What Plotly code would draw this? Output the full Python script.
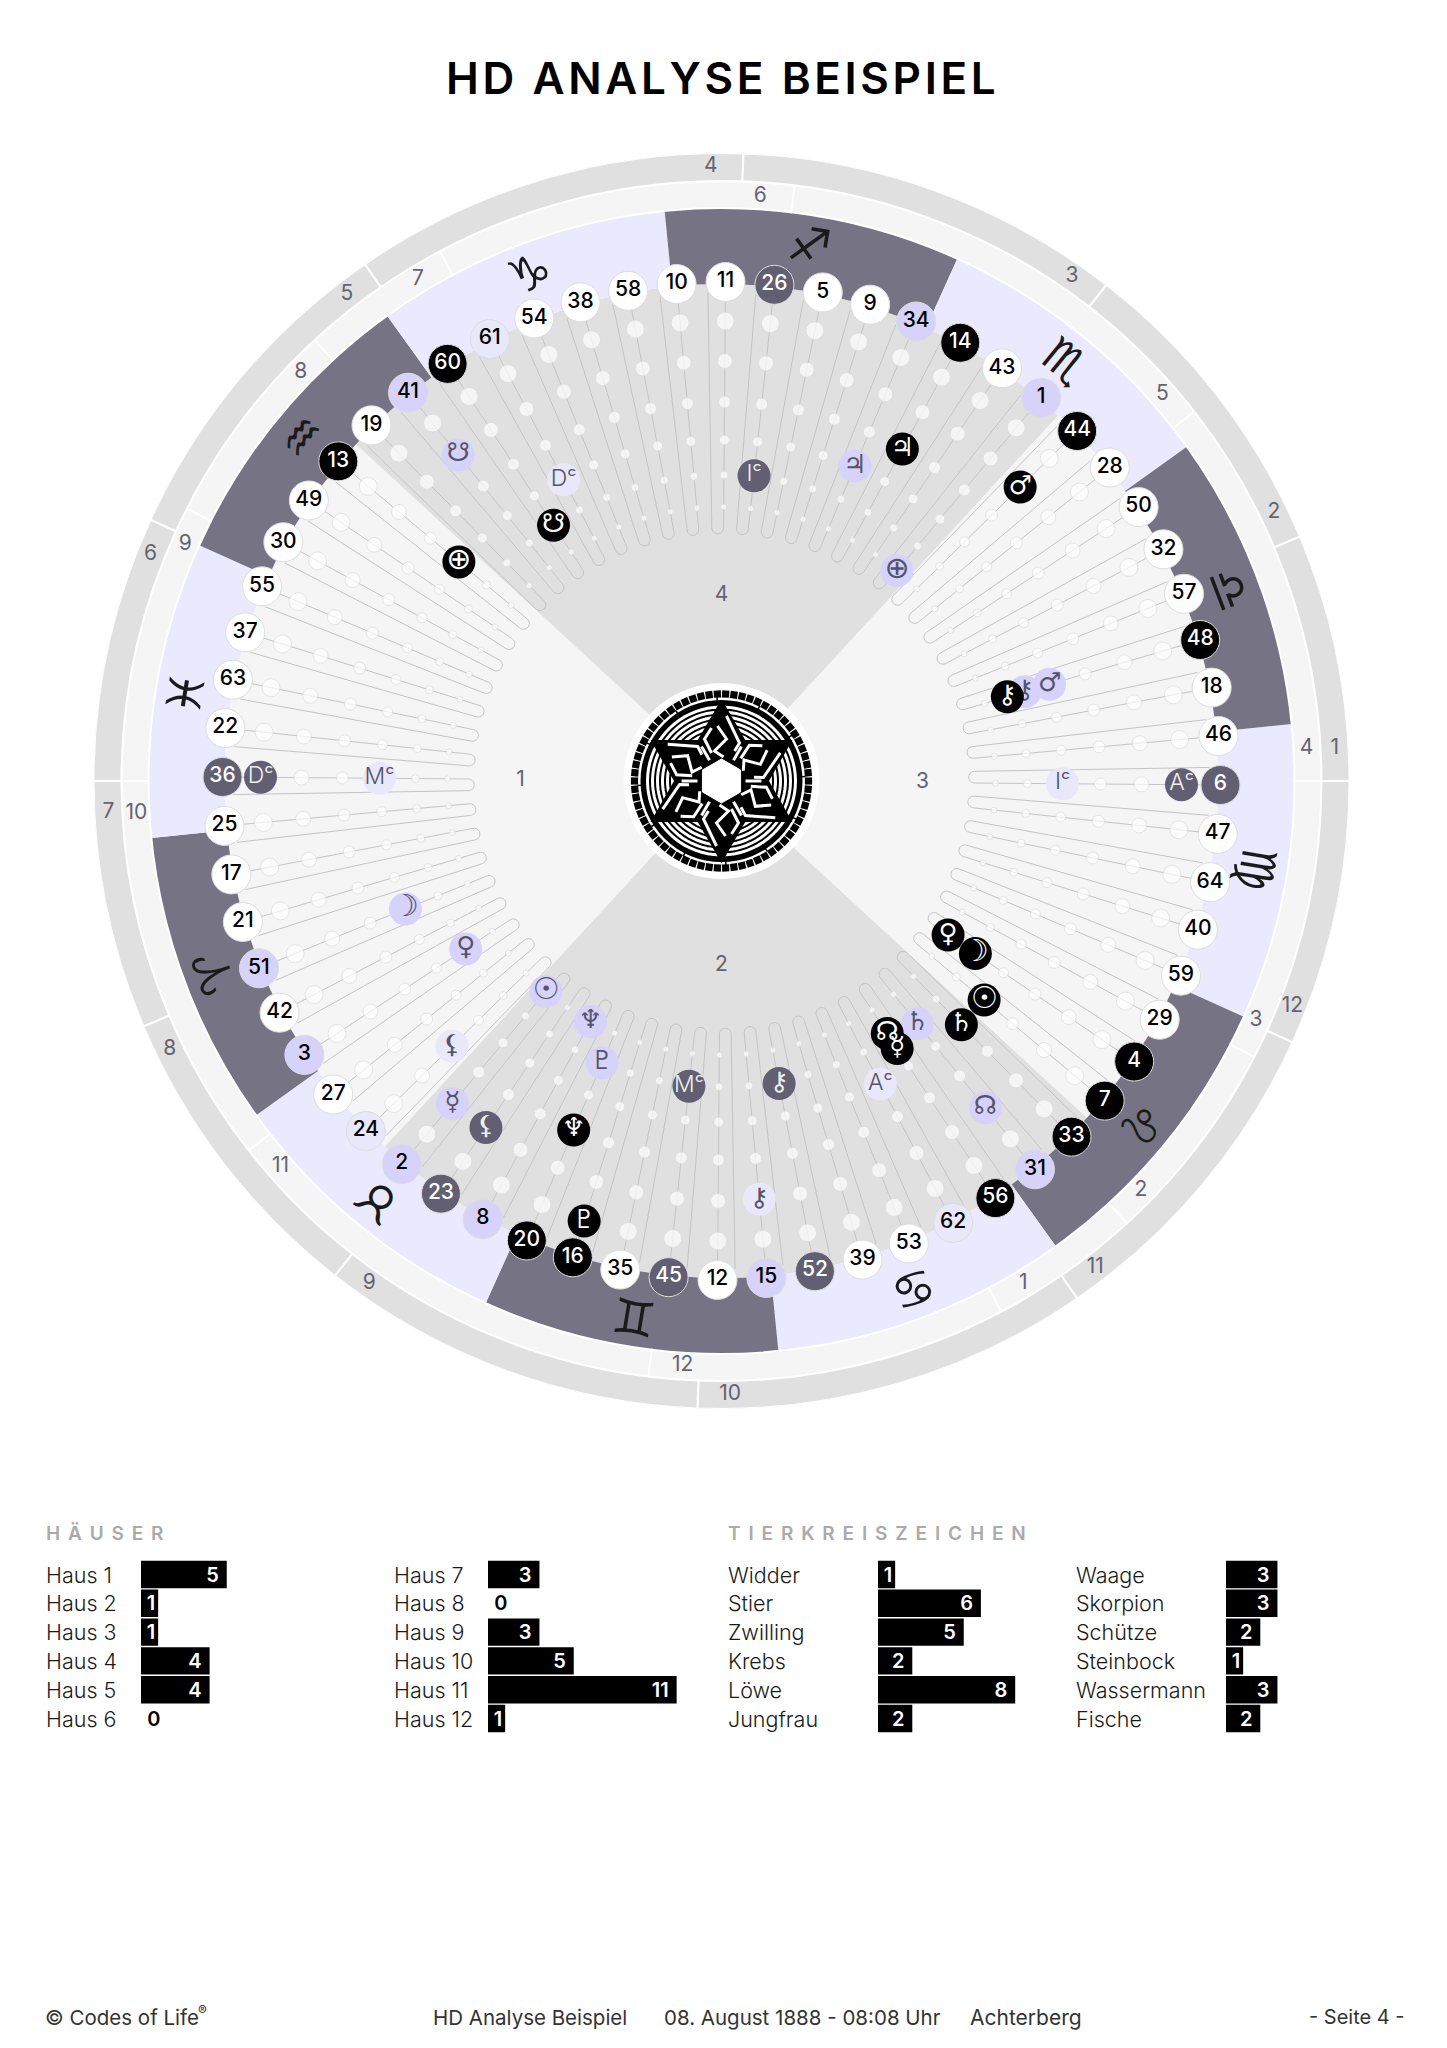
import math
import plotly.graph_objects as go

W, H = 1447, 2048
# the page body keeps its 8px margin, so the figure is 16px smaller and every position shifts by 8
PAD = 8
FW, FH = W - 2 * PAD, H - 2 * PAD
CX, CY, R_OUT = 721.5, 781, 628
FONT = "Inter"

# gates, clockwise from east
GATES = [6, 47, 64, 40, 59, 29, 4, 7, 33, 31, 56, 62, 53, 39, 52, 15,
         12, 45, 35, 16, 20, 8, 23, 2, 24, 27, 3, 42, 51, 21, 17, 25,
         36, 22, 63, 37, 55, 30, 49, 13, 19, 41, 60, 61, 54, 38, 58, 10,
         11, 26, 5, 9, 34, 14, 43, 1, 44, 28, 50, 32, 57, 48, 18, 46]
GATE_START = 0.46
GATE_STEP = 5.625
GATES_BLACK = [14, 44, 60, 13, 48, 4, 7, 33, 56, 20, 16]
GATES_DARK = [26, 36, 6, 23, 45, 52]
GATES_LAV = [34, 1, 41, 3, 51, 2, 8, 31, 15]
GATES_PALE = [61, 24, 62]

LINE_R = [274, 306, 341, 379, 420, 460]
DOT_SIZE = [6, 8, 10, 12, 15, 18]

# house cusps on the two outer rings (angle clockwise from east, label before it)
OUTER_CUSPS = [0, 24.6, 55.5, 92.2, 128, 157, 180, 204.6, 235.4, 272, 307.8, 337.1]
OUTER_LABELS = ["1", "12", "11", "10", "9", "8", "7", "6", "5", "4", "3", "2"]
INNER_CUSPS = [0, 27.4, 47.5, 62.2, 97, 142, 180, 207, 227.3, 242, 277, 322]
INNER_LABELS = ["4", "3", "2", "1", "12", "11", "10", "9", "8", "7", "6", "5"]

SIGN_START = 354.3
SIGN_GLYPHS = ["♍", "♌", "♋", "♊", "♉", "♈", "♓", "♒", "♑", "♐", "♏", "♎"]

PLANET_DARK = [("Iᶜ", 26, 307), ("Aᶜ", 6, 460), ("Dᶜ", 36, 461),
               ("Mᶜ", 45, 307), ("⚸", 23, 419), ("⚷", 52, 308)]
PLANET_PALE = [("Iᶜ", 6, 341), ("Mᶜ", 36, 342), ("Dᶜ", 61, 340),
               ("⚸", 24, 378), ("⚷", 15, 420), ("Aᶜ", 62, 342)]
PLANET_LAV = [("♃", 34, 342), ("⊕", 1, 274), ("♂", 48, 342), ("⚷", 48, 316), ("☋", 41, 419),
              ("☽", 51, 341), ("♀", 3, 306), ("☉", 2, 274), ("♆", 8, 274), ("♇", 20, 306),
              ("☿", 2, 420), ("♄", 31, 312), ("☊", 31, 420)]
PLANET_BLACK = [("♃", 14, 378), ("♂", 44, 419), ("⚷", 48, 298), ("⊕", 13, 342), ("☋", 60, 306),
                ("♆", 20, 379), ("♇", 16, 461), ("☉", 7, 342), ("☽", 4, 307), ("♀", 4, 274),
                ("♄", 33, 342), ("☿", 56, 320), ("☊", 56, 302)]
ANGLE_NAMES = ["Iᶜ", "Aᶜ", "Dᶜ", "Mᶜ"]

HOUSES_A = ["Haus 1", "Haus 2", "Haus 3", "Haus 4", "Haus 5", "Haus 6"]
HOUSES_A_VAL = [5, 1, 1, 4, 4, 0]
HOUSES_B = ["Haus 7", "Haus 8", "Haus 9", "Haus 10", "Haus 11", "Haus 12"]
HOUSES_B_VAL = [3, 0, 3, 5, 11, 1]
SIGNS_A = ["Widder", "Stier", "Zwilling", "Krebs", "Löwe", "Jungfrau"]
SIGNS_A_VAL = [1, 6, 5, 2, 8, 2]
SIGNS_B = ["Waage", "Skorpion", "Schütze", "Steinbock", "Wassermann", "Fische"]
SIGNS_B_VAL = [3, 3, 2, 1, 3, 2]


def gate_angle(i):
    return GATE_START + i * GATE_STEP


def local_to_polar(theta, pts):
    rs, ts = [], []
    for u, v in pts:
        rs.append(math.hypot(u, v))
        ts.append(theta - math.degrees(math.atan2(v, u)))
    return rs, ts


def px(x):
    return (x - PAD) / FW


def py(y):
    return 1 - (y - PAD) / FH


fig = go.Figure()


def ring_bars(base, top, cusps, color, line_w):
    thetas, widths = [], []
    for k, c in enumerate(cusps):
        nxt = cusps[(k + 1) % len(cusps)]
        span = (nxt - c) % 360
        thetas.append(c + span / 2)
        widths.append(span)
    fig.add_trace(go.Barpolar(theta=thetas, width=widths, r=[top - base] * len(cusps), base=[base] * len(cusps),
                              marker=dict(color=color, line=dict(color="white", width=line_w)),
                              hoverinfo="skip", showlegend=False))


# quadrants
q_edges = [gate_angle(i - 0.5) for i in (8, 24, 40, 56)]
fig.add_trace(go.Barpolar(
    theta=[e + 45 for e in q_edges], width=[90] * 4, r=[497] * 4, base=[0] * 4,
    marker=dict(color=["#e0e0e0", "#f5f5f5", "#e0e0e0", "#f5f5f5"], line=dict(width=0)),
    hoverinfo="skip", showlegend=False))

# zodiac band
sign_theta = [(SIGN_START + 15 + 30 * k) % 360 for k in range(12)]
fig.add_trace(go.Barpolar(
    theta=sign_theta, width=[30] * 12, r=[76] * 12, base=[497] * 12,
    marker=dict(color=["#ebe9fd", "#767385"] * 6, line=dict(width=0)),
    hoverinfo="skip", showlegend=False))

ring_bars(573, 600, INNER_CUSPS, "#f5f5f5", 2)
ring_bars(600, 628, OUTER_CUSPS, "#e0e0e0", 2)

# logo discs
fig.add_trace(go.Barpolar(theta=[0, 0], width=[360, 360], r=[98, 81], base=[0, 0],
                          marker=dict(color=["white", "black"], line=dict(width=0)),
                          hoverinfo="skip", showlegend=False))

# logo: arcs between the star tips, each stopping where it meets the star edge
STAR_TIP, STAR_NOTCH = 76, 44
tip_x = STAR_TIP * math.cos(math.radians(30))
tip_y = STAR_TIP * math.sin(math.radians(30))
arc_r, arc_t = [], []
for k in range(6):
    mid = 60 * k
    for rad in (49, 54, 59, 64, 69, 74):
        half = 2
        for s in range(101):
            x = STAR_NOTCH + (tip_x - STAR_NOTCH) * s / 100
            y = tip_y * s / 100
            if math.hypot(x, y) <= rad:
                half = math.degrees(math.atan2(y, x))
        for s in range(13):
            arc_r.append(rad)
            arc_t.append(mid - half + 2 * half * s / 12)
        arc_r.append(None)
        arc_t.append(None)
fig.add_trace(go.Scatterpolar(r=arc_r, theta=arc_t, mode="lines", line=dict(color="white", width=3),
                              hoverinfo="skip", showlegend=False))

# logo: hexagram outline
star_r = [STAR_TIP if k % 2 == 0 else STAR_NOTCH for k in range(13)]
star_t = [270 + 30 * k for k in range(13)]
fig.add_trace(go.Scatterpolar(r=star_r, theta=star_t, mode="lines", fill="toself", fillcolor="black",
                              line=dict(color="black", width=6), hoverinfo="skip", showlegend=False))

# logo: meander in each star arm
maze_r, maze_t = [], []
MAZE = [[(65, -5), (38, -18), (30, -13)],
        [(55, 4), (42, -5), (30, 7), (24, -2)],
        [(53, 10), (42, 17), (28, 10)],
        [(20.8, 12), (34.6, 20)]]
for k in range(6):
    tip = 270 + 60 * k
    for path in MAZE:
        rs, ts = local_to_polar(tip, path)
        maze_r += rs + [None]
        maze_t += ts + [None]
fig.add_trace(go.Scatterpolar(r=maze_r, theta=maze_t, mode="lines", line=dict(color="white", width=3),
                              hoverinfo="skip", showlegend=False))
hex_t = [270 + 60 * k for k in range(7)]
fig.add_trace(go.Scatterpolar(r=[22] * 7, theta=hex_t, mode="lines", fill="toself", fillcolor="white",
                              line=dict(color="white", width=1), hoverinfo="skip", showlegend=False))
sq_t = [360 * k / 66 for k in range(66)]
fig.add_trace(go.Scatterpolar(r=[87] * 66, theta=sq_t, mode="markers",
                              marker=dict(symbol="square", size=7.2, color="black", angle=sq_t, line=dict(width=0)),
                              hoverinfo="skip", showlegend=False))
tick_r, tick_t = [], []
for k in range(12):
    tick_r += [80, 84, None]
    tick_t += [30 * k - 3, 30 * k - 3, None]
fig.add_trace(go.Scatterpolar(r=tick_r, theta=tick_t, mode="lines", line=dict(color="black", width=1.5),
                              hoverinfo="skip", showlegend=False))

# lanes: line from the gate inward, u-turn, back out beside it
lane_r, lane_t = [], []
for i in range(len(GATES)):
    th = gate_angle(i)
    pts = [(499, 0), (253, 0)]
    for s in range(1, 10):
        a = math.pi * s / 10
        pts.append((253 - 5.85 * math.sin(a), 5.85 - 5.85 * math.cos(a)))
    pts += [(253, 11.7), (488, 17.5)]
    rs, ts = local_to_polar(th, pts)
    lane_r += rs + [None]
    lane_t += ts + [None]
fig.add_trace(go.Scatterpolar(r=lane_r, theta=lane_t, mode="lines", line=dict(color="#c4c4c4", width=1),
                              hoverinfo="skip", showlegend=False))

# line dots
dot_r, dot_t, dot_s = [], [], []
for i in range(len(GATES)):
    for j in range(6):
        dot_r.append(LINE_R[j])
        dot_t.append(gate_angle(i))
        dot_s.append(DOT_SIZE[j])
fig.add_trace(go.Scatterpolar(r=dot_r, theta=dot_t, mode="markers",
                              marker=dict(color="white", size=dot_s, line=dict(color="#dedede", width=1)),
                              hoverinfo="skip", showlegend=False))


def glyph_size(t):
    if t in ANGLE_NAMES:
        return 23
    if t in ("☉", "⊕", "☽"):
        return 30
    return 26


# planets
for plist, fill, txt in [(PLANET_PALE, "#e9e7fa", "#55536a"), (PLANET_LAV, "#d6d2fa", "#55536a"),
                         (PLANET_DARK, "#625f72", "#eeeeee"), (PLANET_BLACK, "black", "white")]:
    labels = [p[0] for p in plist]
    fig.add_trace(go.Scatterpolar(
        r=[p[2] for p in plist],
        theta=[gate_angle(GATES.index(p[1])) for p in plist],
        text=labels,
        mode="markers+text",
        marker=dict(color=fill, size=33, line=dict(width=0)),
        textfont=dict(family=[FONT if t in ANGLE_NAMES else "DejaVu Sans" for t in labels],
                      size=[glyph_size(t) for t in labels],
                      weight=[300 if t in ANGLE_NAMES else 400 for t in labels],
                      color=txt),
        textposition="middle center",
        hoverinfo="skip", showlegend=False))

# gate circles
gate_fill, gate_txt = [], []
for g in GATES:
    if g in GATES_BLACK:
        gate_fill.append("black"); gate_txt.append("white")
    elif g in GATES_DARK:
        gate_fill.append("#625f72"); gate_txt.append("white")
    elif g in GATES_LAV:
        gate_fill.append("#d6d2fa"); gate_txt.append("black")
    elif g in GATES_PALE:
        gate_fill.append("#e9e7fa"); gate_txt.append("black")
    else:
        gate_fill.append("white"); gate_txt.append("black")
fig.add_trace(go.Scatterpolar(
    r=[499] * len(GATES), theta=[gate_angle(i) for i in range(len(GATES))],
    text=[str(g) for g in GATES], mode="markers+text",
    marker=dict(color=gate_fill, size=39, line=dict(color="#dddddd", width=1)),
    textfont=dict(family=FONT, size=21, color=gate_txt, weight=500),
    textposition="middle center", hoverinfo="skip", showlegend=False))

# ring and quadrant numbers
ring_r = [614] * 12 + [586] * 12 + [201, 185, 201, 185]
ring_t = [(c - 3) % 360 for c in OUTER_CUSPS] + [(c - 3.2) % 360 for c in INNER_CUSPS] + [0.5, 90, 180, 270]
ring_x = OUTER_LABELS + INNER_LABELS + ["3", "2", "1", "4"]
fig.add_trace(go.Scatterpolar(r=ring_r, theta=ring_t, text=ring_x, mode="text",
                              textfont=dict(family=FONT, size=21, color="#65636f"),
                              hoverinfo="skip", showlegend=False))

annotations = []


def note(x, y, text, size=20, color="black", anchor="left", weight=400, family=FONT, angle=0):
    annotations.append(dict(x=px(x), y=py(y), xref="paper", yref="paper", text=text, showarrow=False,
                            xanchor=anchor, yanchor="middle", textangle=angle,
                            font=dict(family=family, size=size, color=color, weight=weight)))


# sign glyphs
for k, glyph in enumerate(SIGN_GLYPHS):
    t = sign_theta[k]
    x = CX + 543 * math.cos(math.radians(t))
    y = CY + 543 * math.sin(math.radians(t))
    note(x, y, glyph, size=48, anchor="center", family="DejaVu Sans", color="#1a1a1a", angle=(t + 90) % 360)

note(721, 78, "\u200a".join("HD ANALYSE BEISPIEL"), size=44, anchor="center", weight=600)
note(44, 1533, "\u2009\u2009\u200a".join("HÄUSER"), size=19, color="#aaaaaa", weight=600)
note(726, 1533, "\u2009\u2009\u200a".join("TIERKREISZEICHEN"), size=19, color="#aaaaaa", weight=600)
note(43, 2017, "© Codes of Life", size=20.5, color="#333333")
note(196, 2010, "®", size=13, color="#333333")
note(431, 2017, "HD Analyse Beispiel", size=20.5, color="#333333")
note(662, 2017, "08. August 1888 - 08:08 Uhr", size=20.5, color="#333333")
note(968, 2017, "Achterberg", size=21, color="#333333")
note(1407, 2017, "- Seite 4 -", size=20, color="#333333", anchor="right")

# bar panels
UNIT = 17.15
PANEL_W = 200
panels = [(44, 141, HOUSES_A, HOUSES_A_VAL), (392, 488, HOUSES_B, HOUSES_B_VAL),
          (726, 878, SIGNS_A, SIGNS_A_VAL), (1074, 1226, SIGNS_B, SIGNS_B_VAL)]
axes = {}
for n, (lab_x, bar_x, names, vals) in enumerate(panels):
    xa, ya = ("xaxis%d" % (n + 1), "yaxis%d" % (n + 1))
    xr, yr = ("x%d" % (n + 1), "y%d" % (n + 1))
    labels = []
    for v in vals:
        if v == 0:
            labels.append("\u2009" + str(v))
        elif v == 1:
            labels.append(str(v))
        else:
            labels.append(str(v) + "\u2009\u200a")
    fig.add_trace(go.Bar(
        x=vals, y=names, orientation="h", xaxis=xr, yaxis=yr,
        marker=dict(color="black", line=dict(width=0)),
        text=labels,
        textposition=["inside" if v else "outside" for v in vals],
        insidetextanchor="end", constraintext="none", textangle=0, cliponaxis=False,
        textfont=dict(family=FONT, size=20, weight=600, color=["white" if v else "black" for v in vals]),
        width=0.95, hoverinfo="skip", showlegend=False))
    axes[xa] = dict(domain=[px(bar_x), px(bar_x + PANEL_W)], range=[0, PANEL_W / UNIT], visible=False, anchor=yr)
    axes[ya] = dict(domain=[py(1733.5), py(1559.5)], autorange="reversed", visible=False, anchor=xr, type="category")
    for j, name in enumerate(names):
        annotations.append(dict(x=px(lab_x), y=name, xref="paper", yref=yr, text=name, showarrow=False,
                                xanchor="left", yanchor="middle",
                                font=dict(family=FONT, size=21.5, color="#1a1a1a", weight=300)))

fig.update_layout(
    width=FW, height=FH, autosize=False,
    margin=dict(l=0, r=0, t=0, b=0),
    paper_bgcolor="white", plot_bgcolor="white",
    polar=dict(
        domain=dict(x=[px(CX - R_OUT), px(CX + R_OUT)], y=[py(CY + R_OUT), py(CY - R_OUT)]),
        bgcolor="rgba(0,0,0,0)",
        barmode="overlay",
        radialaxis=dict(range=[0, R_OUT], visible=False),
        angularaxis=dict(rotation=0, direction="clockwise", visible=False),
    ),
    annotations=annotations,
    **axes,
)

fig.write_html("out.html")
